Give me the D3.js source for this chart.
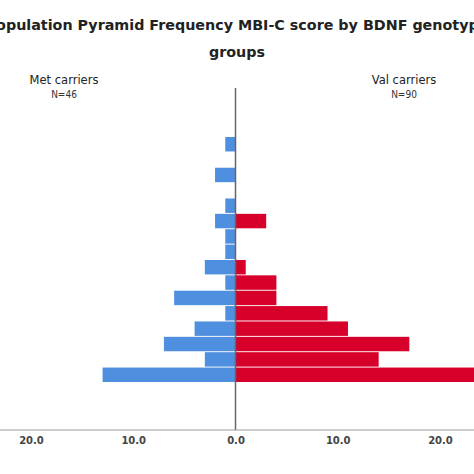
<!DOCTYPE html>
<html><head><meta charset="utf-8">
<script src="https://cdn.jsdelivr.net/npm/d3@7"></script>
<style>body{margin:0;background:#fff}</style>
</head><body><div id="wrapper"></div>
<script>
// rows from top (highest score) to bottom (lowest score)
const rows = d3.range(16)
const metCounts = [1,0,2,0,1,2,1,1,3,1,6,1,4,7,3,13]
const valCounts = [0,0,0,0,0,3,0,0,1,4,4,9,11,17,14,27]
const tickValues = [-20,-10,0,10,20]

const width = 474, height = 474
const svg = d3.select("#wrapper").append("svg")
  .attr("width", width).attr("height", height)
  .style("font-family", "'DejaVu Sans', sans-serif")

// 0 at 236px, 10 units ~ 102px
const xScale = d3.scaleLinear().domain([-20, 20]).range([31, 440])
const yScale = d3.scaleBand().domain(rows).range([137, 382]).paddingInner(0.06)

svg.append("g").selectAll("rect.met").data(rows).join("rect")
  .attr("x", d => xScale(-metCounts[d]))
  .attr("y", d => yScale(d))
  .attr("width", d => xScale(0) - xScale(-metCounts[d]))
  .attr("height", yScale.bandwidth())
  .attr("fill", "#4f8fe0")

svg.append("g").selectAll("rect.val").data(rows).join("rect")
  .attr("x", xScale(0))
  .attr("y", d => yScale(d))
  .attr("width", d => xScale(valCounts[d]) - xScale(0))
  .attr("height", yScale.bandwidth())
  .attr("fill", "#d6002a")

// center line
svg.append("line")
  .attr("x1", xScale(0)).attr("x2", xScale(0))
  .attr("y1", 88).attr("y2", 430)
  .attr("stroke", "#666").attr("stroke-width", 1.5)

// bottom axis
const xAxis = svg.append("g").attr("transform", "translate(0,430)")
  .call(d3.axisBottom(xScale).tickValues(tickValues).tickSize(0)
    .tickFormat(d => Math.abs(d).toFixed(1)))
xAxis.select(".domain").remove()
xAxis.append("line").attr("x1", 0).attr("x2", width).attr("stroke", "#999")
xAxis.selectAll("text").attr("dy", "1.1em").attr("font-size", 10)
  .attr("font-weight", "bold").attr("fill", "#444").attr("font-family", "'DejaVu Sans', sans-serif")

// title
svg.append("text").attr("x", 237).attr("y", 30).attr("text-anchor", "middle")
  .attr("font-size", 14.3).attr("font-weight", "bold").attr("fill", "#222")
  .text("Population Pyramid Frequency MBI-C score  by BDNF genotype")
svg.append("text").attr("x", 237).attr("y", 57).attr("text-anchor", "middle")
  .attr("font-size", 14.3).attr("font-weight", "bold").attr("fill", "#222")
  .text("groups")

// group labels
const groups = [["Met carriers", "N=46", 64], ["Val carriers", "N=90", 404]]
groups.forEach(([name, n, x]) => {
  svg.append("text").attr("x", x).attr("y", 84).attr("text-anchor", "middle")
    .attr("font-size", 11.5).attr("fill", "#222").text(name)
  svg.append("text").attr("x", x).attr("y", 98).attr("text-anchor", "middle")
    .attr("font-size", 10).attr("fill", "#333")
    .attr("font-family", "'DejaVu Sans Condensed', sans-serif").text(n)
})
</script></body></html>
